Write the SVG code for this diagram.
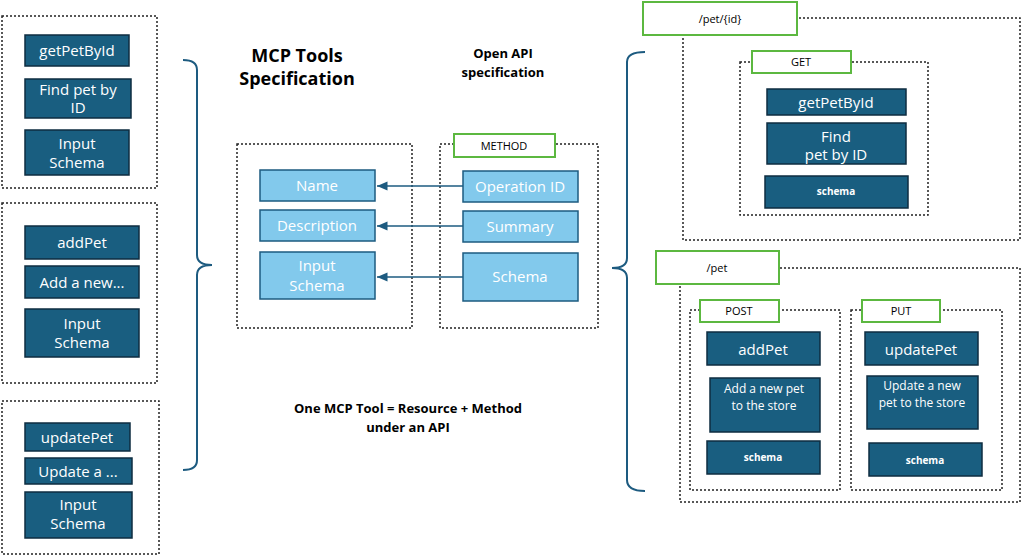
<svg xmlns="http://www.w3.org/2000/svg" width="1024" height="556" viewBox="0 0 1024 556">
<style>
.dot{fill:none;stroke:#222;stroke-width:1.5;stroke-dasharray:2 2}
.dk{fill:#195e80;stroke:#0e2d40;stroke-width:1.5}
.lt{fill:#82c9ec;stroke:#1d5b80;stroke-width:1.5}
.tab{fill:#fff;stroke:#5cb840;stroke-width:2}
text{font-family:"Open Sans","Liberation Sans",sans-serif;text-anchor:middle}
.w{fill:#fff;font-size:15px}
.ws{fill:#fff;font-size:10px;font-weight:bold}
.lw{fill:#fff;font-size:12px}
.b{fill:#000;font-weight:bold}
.t{fill:#000;font-size:11px}
.br{fill:none;stroke:#1d5b80;stroke-width:2}
</style>
<defs><marker id="ah" markerWidth="8" markerHeight="8" refX="7" refY="4" orient="auto"><path d="M0,1 L7,4 L0,7z" fill="#1d5b80"/></marker></defs>
<rect width="1024" height="556" fill="#fff"/>
<g id="left1"><rect class="dot" x="2" y="16" width="155" height="172"/>
<rect class="dk" x="25" y="35" width="104" height="31"/><text class="w" x="77" y="56">getPetById</text>
<rect class="dk" x="25" y="79" width="106" height="39"/><text class="w" x="78" y="95">Find pet by</text><text class="w" x="78" y="113">ID</text>
<rect class="dk" x="25" y="130" width="104" height="45"/><text class="w" x="77" y="149">Input</text><text class="w" x="77" y="168">Schema</text></g>
<g id="left2"><rect class="dot" x="2" y="203" width="155" height="180"/>
<rect class="dk" x="25" y="226" width="114" height="33"/><text class="w" x="82" y="248">addPet</text>
<rect class="dk" x="25" y="266" width="114" height="32"/><text class="w" x="82" y="288">Add a new...</text>
<rect class="dk" x="25" y="309" width="114" height="48"/><text class="w" x="82" y="329">Input</text><text class="w" x="82" y="348">Schema</text></g>
<g id="left3"><rect class="dot" x="2" y="401" width="157" height="153"/>
<rect class="dk" x="25" y="423" width="105" height="28"/><text class="w" x="77" y="443">updatePet</text>
<rect class="dk" x="25" y="458" width="107" height="26"/><text class="w" x="78" y="477">Update a ...</text>
<rect class="dk" x="25" y="492" width="107" height="46"/><text class="w" x="78" y="510">Input</text><text class="w" x="78" y="529">Schema</text></g>
<path class="br" d="M183,60 Q197,60 197,70 L197,255 Q197,265 212,265 Q197,265 197,275 L197,460 Q197,470 183,470"/>
<text class="b" x="297" y="62" font-size="18">MCP Tools</text><text class="b" x="297" y="85" font-size="18">Specification</text>
<text class="b" x="503" y="58" font-size="13">Open API</text><text class="b" x="503" y="77" font-size="13">specification</text>
<g id="mcp"><rect class="dot" x="237" y="144" width="175" height="184"/>
<rect class="lt" x="260" y="170" width="115" height="31"/><text class="w" x="317" y="191">Name</text>
<rect class="lt" x="260" y="210" width="115" height="31"/><text class="w" x="317" y="231">Description</text>
<rect class="lt" x="260" y="252" width="115" height="47"/><text class="w" x="317" y="271">Input</text><text class="w" x="317" y="291">Schema</text></g>
<g id="openapi"><rect class="dot" x="440" y="144" width="158" height="184"/>
<rect class="tab" x="454" y="134" width="101" height="23"/><text class="t" x="504" y="150">METHOD</text>
<rect class="lt" x="463" y="171" width="115" height="31"/><text class="w" x="520" y="192">Operation ID</text>
<rect class="lt" x="463" y="211" width="115" height="31"/><text class="w" x="520" y="232">Summary</text>
<rect class="lt" x="463" y="253" width="115" height="48"/><text class="w" x="520" y="282">Schema</text></g>
<g id="connectors" stroke="#1d5b80" stroke-width="1.5" marker-end="url(#ah)">
<line x1="463" y1="186" x2="377" y2="186"/><line x1="463" y1="226" x2="377" y2="226"/><line x1="463" y1="277" x2="377" y2="277"/></g>
<text class="b" x="408" y="413" font-size="13">One MCP Tool = Resource + Method</text><text class="b" x="408" y="432" font-size="13">under an API</text>
<path class="br" d="M645,52 Q627,52 627,62 L627,258 Q627,268 612,268 Q627,268 627,278 L627,480 Q627,491 645,491"/>
<g id="petid"><rect class="dot" x="683" y="18" width="337" height="222"/>
<rect class="tab" x="643" y="2" width="154" height="33"/><text class="t" x="720" y="23">/pet/{id}</text>
<rect class="dot" x="740" y="62" width="188" height="153"/>
<rect class="tab" x="752" y="51" width="99" height="22"/><text class="t" x="801" y="66">GET</text>
<rect class="dk" x="767" y="89" width="139" height="26"/><text class="w" x="836" y="108">getPetById</text>
<rect class="dk" x="767" y="123" width="139" height="41"/><text class="w" x="836" y="142">Find</text><text class="w" x="836" y="160">pet by ID</text>
<rect class="dk" x="765" y="176" width="143" height="32"/><text class="ws" x="836" y="195">schema</text></g>
<g id="pet"><rect class="dot" x="680" y="268" width="340" height="234"/>
<rect class="tab" x="656" y="251" width="123" height="33"/><text class="t" x="717" y="272">/pet</text>
<rect class="dot" x="690" y="310" width="150" height="180"/>
<rect class="tab" x="700" y="300" width="79" height="22"/><text class="t" x="739" y="315">POST</text>
<rect class="dk" x="707" y="332" width="113" height="33"/><text class="w" x="763" y="355">addPet</text>
<rect class="dk" x="710" y="378" width="110" height="54"/><text class="lw" x="764" y="393">Add a new pet</text><text class="lw" x="764" y="410">to the store</text>
<rect class="dk" x="707" y="441" width="113" height="33"/><text class="ws" x="763" y="461">schema</text>
<rect class="dot" x="851" y="310" width="151" height="180"/>
<rect class="tab" x="862" y="300" width="78" height="22"/><text class="t" x="901" y="315">PUT</text>
<rect class="dk" x="865" y="332" width="113" height="33"/><text class="w" x="921" y="355">updatePet</text>
<rect class="dk" x="867" y="376" width="111" height="53"/><text class="lw" x="922" y="390">Update a new</text><text class="lw" x="922" y="407">pet to the store</text>
<rect class="dk" x="869" y="443" width="113" height="33"/><text class="ws" x="925" y="464">schema</text></g>
</svg>
